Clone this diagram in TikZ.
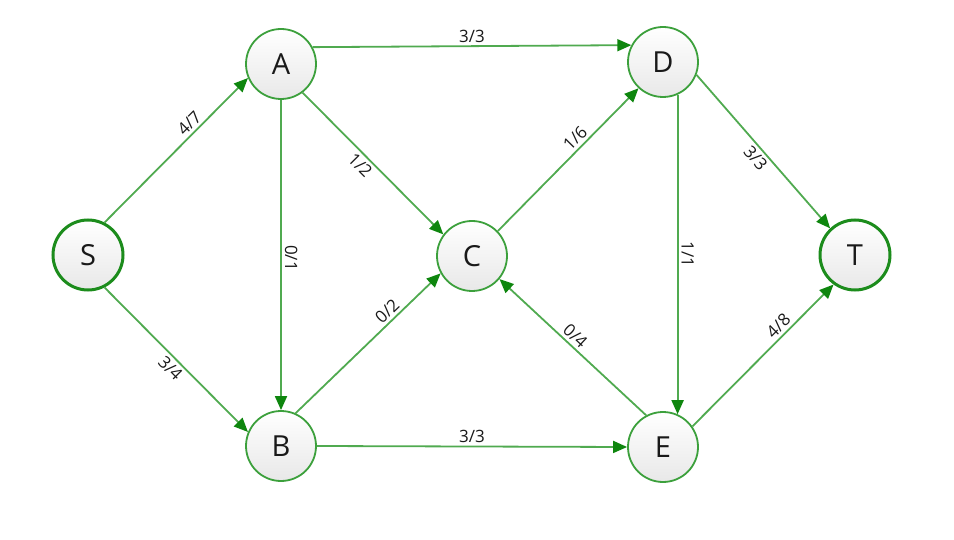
\documentclass[tikz,border=0pt]{standalone}
\usepackage{fontspec}
\setmainfont{Open Sans}
\usetikzlibrary{arrows.meta}
\definecolor{edgegreen}{RGB}{80,170,80}
\definecolor{tipgreen}{RGB}{14,134,14}
\definecolor{ringgreen}{RGB}{60,160,60}
\definecolor{termgreen}{RGB}{28,140,28}
\tikzset{
    vtx/.style={circle, draw=ringgreen, line width=1.8pt, minimum size=70pt, inner sep=0pt,
        top color=white, bottom color=gray!18, text=black!90, font=\fontsize{29}{29}\selectfont},
    vtxT/.style={vtx, draw=termgreen, line width=3pt},
    flowE/.style={draw=edgegreen, line width=1.8pt,
        -{Triangle[length=14pt,width=12pt,color=tipgreen]}},
    lbl/.style={font=\fontsize{17}{17}\selectfont, text=black!90, sloped, inner sep=3pt}
}
\begin{document}
\begin{tikzpicture}[x=1pt, y=-1pt]
    \useasboundingbox (0,0) rectangle (954,540);
    % vertices
    \node[vtxT] (S) at (88,255) {S};
    \node[vtx]  (A) at (281,64) {A};
    \node[vtx]  (B) at (281,446) {B};
    \node[vtx]  (C) at (472,256) {C};
    \node[vtx]  (D) at (663,62) {D};
    \node[vtx]  (E) at (663,447) {E};
    \node[vtxT] (T) at (855,255) {T};
    % flows
    \draw[flowE] (S.63) -- node[lbl, pos=0.64, above] {4/7} (A.203);
    \draw[flowE] (S.-63) -- node[lbl, pos=0.51, below] {3/4} (B.157);
    \draw[flowE] (A.28) -- node[lbl, pos=0.5, above] {3/3} (D.152);
    \draw[flowE] (A.-53) -- node[lbl, pos=0.46, below] {1/2} (C.143);
    \draw[flowE] (A.south) -- node[lbl, pos=0.51, above] {0/1} (B.north);
    \draw[flowE] (B.66) -- node[lbl, pos=0.68, above] {0/2} (C.209);
    \draw[flowE] (B.east) -- node[lbl, pos=0.5, above] {3/3} (E.west);
    \draw[flowE] (C.44) -- node[lbl, pos=0.6, above] {1/6} (D.227);
    \draw[flowE] (D.-21) -- node[lbl, pos=0.5, below] {3/3} (T.133);
    \draw[flowE] (D.-66) -- node[lbl, pos=0.5, above] {1/1} (E.66);
    \draw[flowE] (E.118) -- node[lbl, pos=0.53, above] {0/4} (C.-40);
    \draw[flowE] (E.35) -- node[lbl, pos=0.66, above] {4/8} (T.234);
\end{tikzpicture}
\end{document}
